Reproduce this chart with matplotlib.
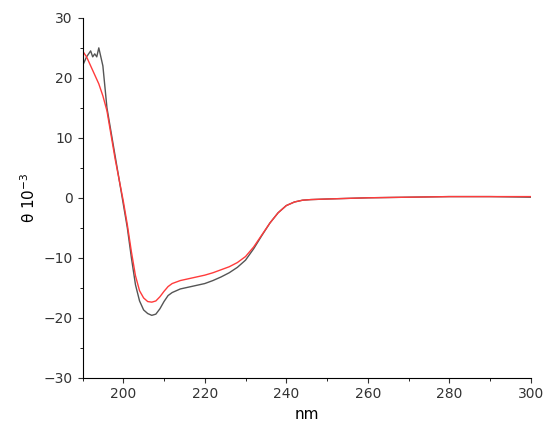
import matplotlib
matplotlib.use("Agg")
import matplotlib.pyplot as plt
import numpy as np

wl_gray = [190,191,192,192.5,193,193.5,194,195,196,197,198,199,200,201,202,203,204,205,206,207,208,209,210,211,212,214,216,218,220,222,224,226,228,230,232,234,236,238,240,242,244,246,250,255,260,270,280,290,300]
gray = [22,23.5,24.5,23.5,24,23.5,25,22,15,11,7,3,-1,-5,-10,-14.5,-17.2,-18.7,-19.3,-19.6,-19.4,-18.5,-17.3,-16.3,-15.8,-15.2,-14.9,-14.6,-14.3,-13.8,-13.2,-12.5,-11.6,-10.4,-8.5,-6.3,-4.2,-2.5,-1.3,-0.7,-0.4,-0.3,-0.2,-0.1,0,0.1,0.2,0.2,0.1]
wl_red = [190,191,192,193,194,195,196,197,198,199,200,201,202,203,204,205,206,207,208,209,210,211,212,214,216,218,220,222,224,226,228,230,232,234,236,238,240,242,244,246,250,255,260,270,280,290,300]
red = [24.5,23.5,22,20.5,19,17,14.5,10.5,6.5,3,-0.5,-4.5,-9,-13,-15.5,-16.7,-17.3,-17.4,-17.2,-16.5,-15.6,-14.8,-14.3,-13.8,-13.5,-13.2,-12.9,-12.5,-12,-11.5,-10.8,-9.8,-8.2,-6.2,-4.2,-2.5,-1.3,-0.7,-0.4,-0.3,-0.2,-0.1,0,0.1,0.2,0.2,0.2]

fig, ax = plt.subplots(figsize=(5.5,4.47), dpi=100)
fig.subplots_adjust(left=0.15, right=0.965, bottom=0.155, top=0.96)
ax.plot(wl_gray, gray, color='#555555', lw=1)
ax.plot(wl_red, red, color='#ff3b3b', lw=1)
ax.set_xlim(190,300); ax.set_ylim(-30,30)
ax.set_xticks([200,220,240,260,280,300]); ax.set_yticks(range(-30,31,10))
ax.set_xticks(range(190,301,10), minor=True); ax.set_yticks(range(-30,31,5), minor=True)
for s in ['top','right']: ax.spines[s].set_visible(False)
ax.tick_params(labelsize=10, colors='#333333')
ax.set_xlabel('nm', fontsize=11)
ax.set_ylabel(r'θ 10$^{-3}$', fontsize=11)
fig.savefig('out.png')
